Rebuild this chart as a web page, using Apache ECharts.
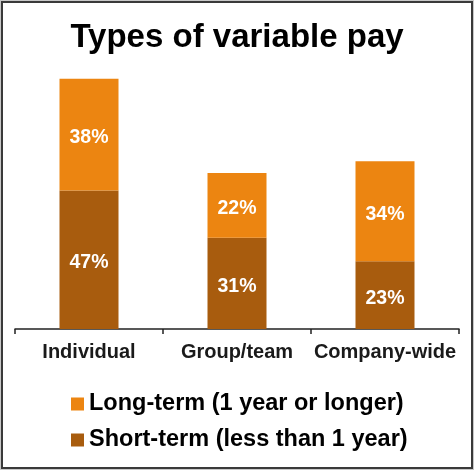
<!DOCTYPE html>
<html><head><meta charset="utf-8">
<script src="https://cdn.jsdelivr.net/npm/echarts@6/dist/echarts.min.js"></script>
<style>
html,body{margin:0;padding:0;background:#fff;}
#chart{position:absolute;left:0;top:0;width:474px;height:470px;}
#frame{position:absolute;left:0;top:0;width:474px;height:470px;box-sizing:border-box;border:1px solid #c8c8c8;box-shadow:inset 0 0 0 2px #3a3a3a;pointer-events:none;}
</style></head>
<body>
<div id="chart"></div><div id="frame"></div>
<script>
const categories = ['Individual', 'Group/team', 'Company-wide'];
const longTerm = [38, 22, 34];
const shortTerm = [47, 31, 23];
const seriesNames = ['Long-term (1 year or longer)', 'Short-term (less than 1 year)'];

const FONT = '"Liberation Sans", Arial, sans-serif';
const chart = echarts.init(document.getElementById('chart'), null, {renderer: 'canvas'});
const labelStyle = {show: true, position: 'inside', offset: [0, 3], color: '#fff', fontWeight: 'bold', fontSize: 19.5, fontFamily: FONT, formatter: p => p.value + '%'};
chart.setOption({
  animation: false,
  backgroundColor: '#fff',
  title: {text: 'Types of variable pay', left: 'center', top: 16,
    textStyle: {fontSize: 33, fontWeight: 'bold', color: '#000', fontFamily: FONT}},
  legend: {orient: 'vertical', left: 71, top: 392, padding: 0, itemWidth: 13, itemHeight: 13, itemGap: 12,
    icon: 'rect', data: seriesNames,
    textStyle: {fontSize: 23.5, fontWeight: 'bold', color: '#000', fontFamily: FONT, lineHeight: 24, padding: [0,0,0,0]}},
  grid: {left: 15, right: 15, top: 64, bottom: 141},
  xAxis: {type: 'category', data: categories,
    axisLine: {lineStyle: {color: '#222', width: 1.5}},
    axisTick: {show: true, length: 5, interval: 0, lineStyle: {color: '#222', width: 1.5}},
    axisLabel: {interval: 0, fontSize: 20, fontWeight: 'bold', color: '#1a1a1a', fontFamily: FONT, margin: 13}},
  yAxis: {type: 'value', min: 0, max: 90, show: false, splitLine: {show: false}},
  series: [
    {name: seriesNames[1], type: 'bar', stack: 'a', data: shortTerm, barWidth: 59,
      itemStyle: {color: '#A85C0E'}, label: labelStyle},
    {name: seriesNames[0], type: 'bar', stack: 'a', data: longTerm, barWidth: 59,
      itemStyle: {color: '#EC8511'}, label: labelStyle}
  ]
});
</script>
</body></html>
